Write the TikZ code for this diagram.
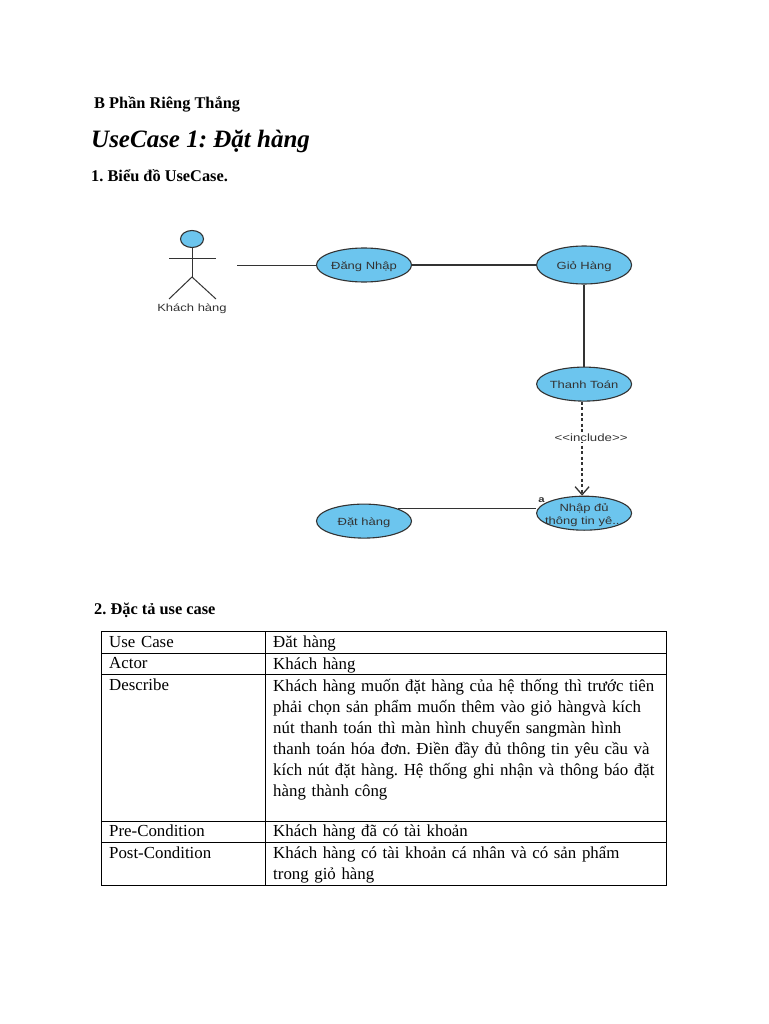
\documentclass[tikz,border=0pt]{standalone}
\usepackage{fontspec}
\setmainfont{Liberation Serif}
\newfontfamily\umlfont[FakeStretch=1.25]{Liberation Sans}
\usepackage{tikz}
\usetikzlibrary{shapes.geometric, arrows.meta, positioning}

\definecolor{usecaseblue}{HTML}{6CC5EE}
\definecolor{umlgrey}{HTML}{333333}
\tikzset{
  usecase/.style={draw=umlgrey, ellipse, fill=usecaseblue, line width=1.1pt, minimum width=95pt, minimum height=34pt, inner xsep=-8pt, inner ysep=-2pt, align=center, text=umlgrey, text height=10pt, text depth=1pt, font=\umlfont\fontsize{10.4}{13}\selectfont},
  umllabel/.style={text=umlgrey, inner sep=1pt, font=\umlfont\fontsize{10.4}{12}\selectfont},
  umlline/.style={draw=umlgrey, line width=1pt},
  heading/.style={anchor=base west, inner sep=0pt, font=\fontsize{16.35}{20}\selectfont\bfseries},
  celltext/.style={anchor=north west, inner sep=0pt, align=left, text width=395pt, font=\fontsize{16.85}{21}\selectfont},
  tableline/.style={draw=black, line width=0.9pt}
}

\begin{document}
\frenchspacing
\begin{tikzpicture}[x=1pt, y=1pt]
        \useasboundingbox[fill=white] (0,0) rectangle (768,-1024);
        % Headings
        \node[heading] (Author) at (94,-109) {B Phần Riêng Thắng};
        \node[heading, font=\fontsize{25}{28}\selectfont\bfseries\itshape] (Title) at (91,-148) {UseCase 1: Đặt hàng};
        \node[heading] (DiagramHead) at (91,-182) {1. Biểu đồ UseCase.};
        \node[heading] (SpecHead) at (94,-614) {2. Đặc tả use case};
        % Use cases
        \node[usecase] (DangNhap) at (364,-265) {Đăng Nhập};
        \node[usecase, minimum height=38pt, right=124pt of DangNhap] (GioHang) {Giỏ Hàng};
        \node[usecase, below=82pt of GioHang] (ThanhToan) {Thanh Toán};
        \node[usecase, below=94pt of ThanhToan, text height=25pt, text depth=2pt] (NhapDu) {Nhập đủ\\thông tin yê...};
        \node[usecase, below=221pt of DangNhap] (DatHang) {Đặt hàng};
        % Actor
        \node[draw=umlgrey, ellipse, fill=usecaseblue, line width=1.1pt, minimum width=23pt, minimum height=17pt, inner sep=0pt] (Head) at (192,-239) {};
        \coordinate (Hip) at (192,-277);
        \coordinate (ArmLeft) at (169,-258);
        \coordinate (ArmRight) at (216,-258);
        \coordinate (LegLeft) at (169,-299);
        \coordinate (LegRight) at (216,-299);
        \coordinate (ActorEnd) at (237,-265);
        \draw[umlline] (Head) -- (Hip);
        \draw[umlline] (ArmLeft) -- (ArmRight);
        \draw[umlline] (LegLeft) -- (Hip) -- (LegRight);
        \node[umllabel] (Actor) at (192,-309) {Khách hàng};
        % Connectors
        \draw[umlline] (ActorEnd) -- (DangNhap);
        \draw[umlline, line width=1.3pt] (DangNhap) -- (GioHang);
        \draw[umlline, line width=1.3pt] (GioHang) -- (ThanhToan);
        \draw[umlline] (DatHang.20) -- (NhapDu.west |- DatHang.20);
        \draw[umlline, line width=1.3pt, dash pattern=on 3pt off 2.5pt, -{Straight Barb[length=8pt, width=14pt]}] ([xshift=-2pt]ThanhToan.south) -- ([xshift=-2pt]NhapDu.north) node[pos=0.38, fill=white, umllabel, font=\umlfont\fontsize{10.6}{12}\selectfont, xshift=9pt] (IncludeLabel) {<{}<include>{}>};
        \node[umllabel, font=\umlfont\bfseries\fontsize{9}{10}\selectfont, inner sep=0pt] (RoleA) at (541.5,-500) {a};
        % Table
        \draw[tableline] (101.5,-631) rectangle (666,-885);
        \draw[tableline] (265.5,-631) -- (265.5,-885);
        \draw[tableline] (101.5,-653) -- (666,-653);
        \draw[tableline] (101.5,-674) -- (666,-674);
        \draw[tableline] (101.5,-821) -- (666,-821);
        \draw[tableline] (101.5,-842) -- (666,-842);
        \node[celltext, text width=155pt] (UseCaseKey) at (109,-636) {Use Case};
        \node[celltext] (UseCaseVal) at (273,-636) {Đăt hàng};
        \node[celltext, text width=155pt] (ActorKey) at (109,-657.5) {Actor};
        \node[celltext] (ActorVal) at (273,-657.5) {Khách hàng};
        \node[celltext, text width=155pt] (DescribeKey) at (109,-679) {Describe};
        \node[celltext] (DescribeVal) at (273,-679) {Khách hàng muốn đặt hàng của hệ thống thì trước tiên\\phải chọn sản phẩm muốn thêm vào giỏ hàngvà kích\\nút thanh toán thì màn hình chuyển sangmàn hình\\thanh toán hóa đơn. Điền đầy đủ thông tin yêu cầu và\\kích nút đặt hàng. Hệ thống ghi nhận và thông báo đặt\\hàng thành công};
        \node[celltext, text width=155pt] (PreKey) at (109,-825) {Pre-Condition};
        \node[celltext] (PreVal) at (273,-825) {Khách hàng đã có tài khoản};
        \node[celltext, text width=155pt] (PostKey) at (109,-846.5) {Post-Condition};
        \node[celltext] (PostVal) at (273,-846.5) {Khách hàng có tài khoản cá nhân và có sản phẩm\\trong giỏ hàng};
    \end{tikzpicture}
\end{document}
